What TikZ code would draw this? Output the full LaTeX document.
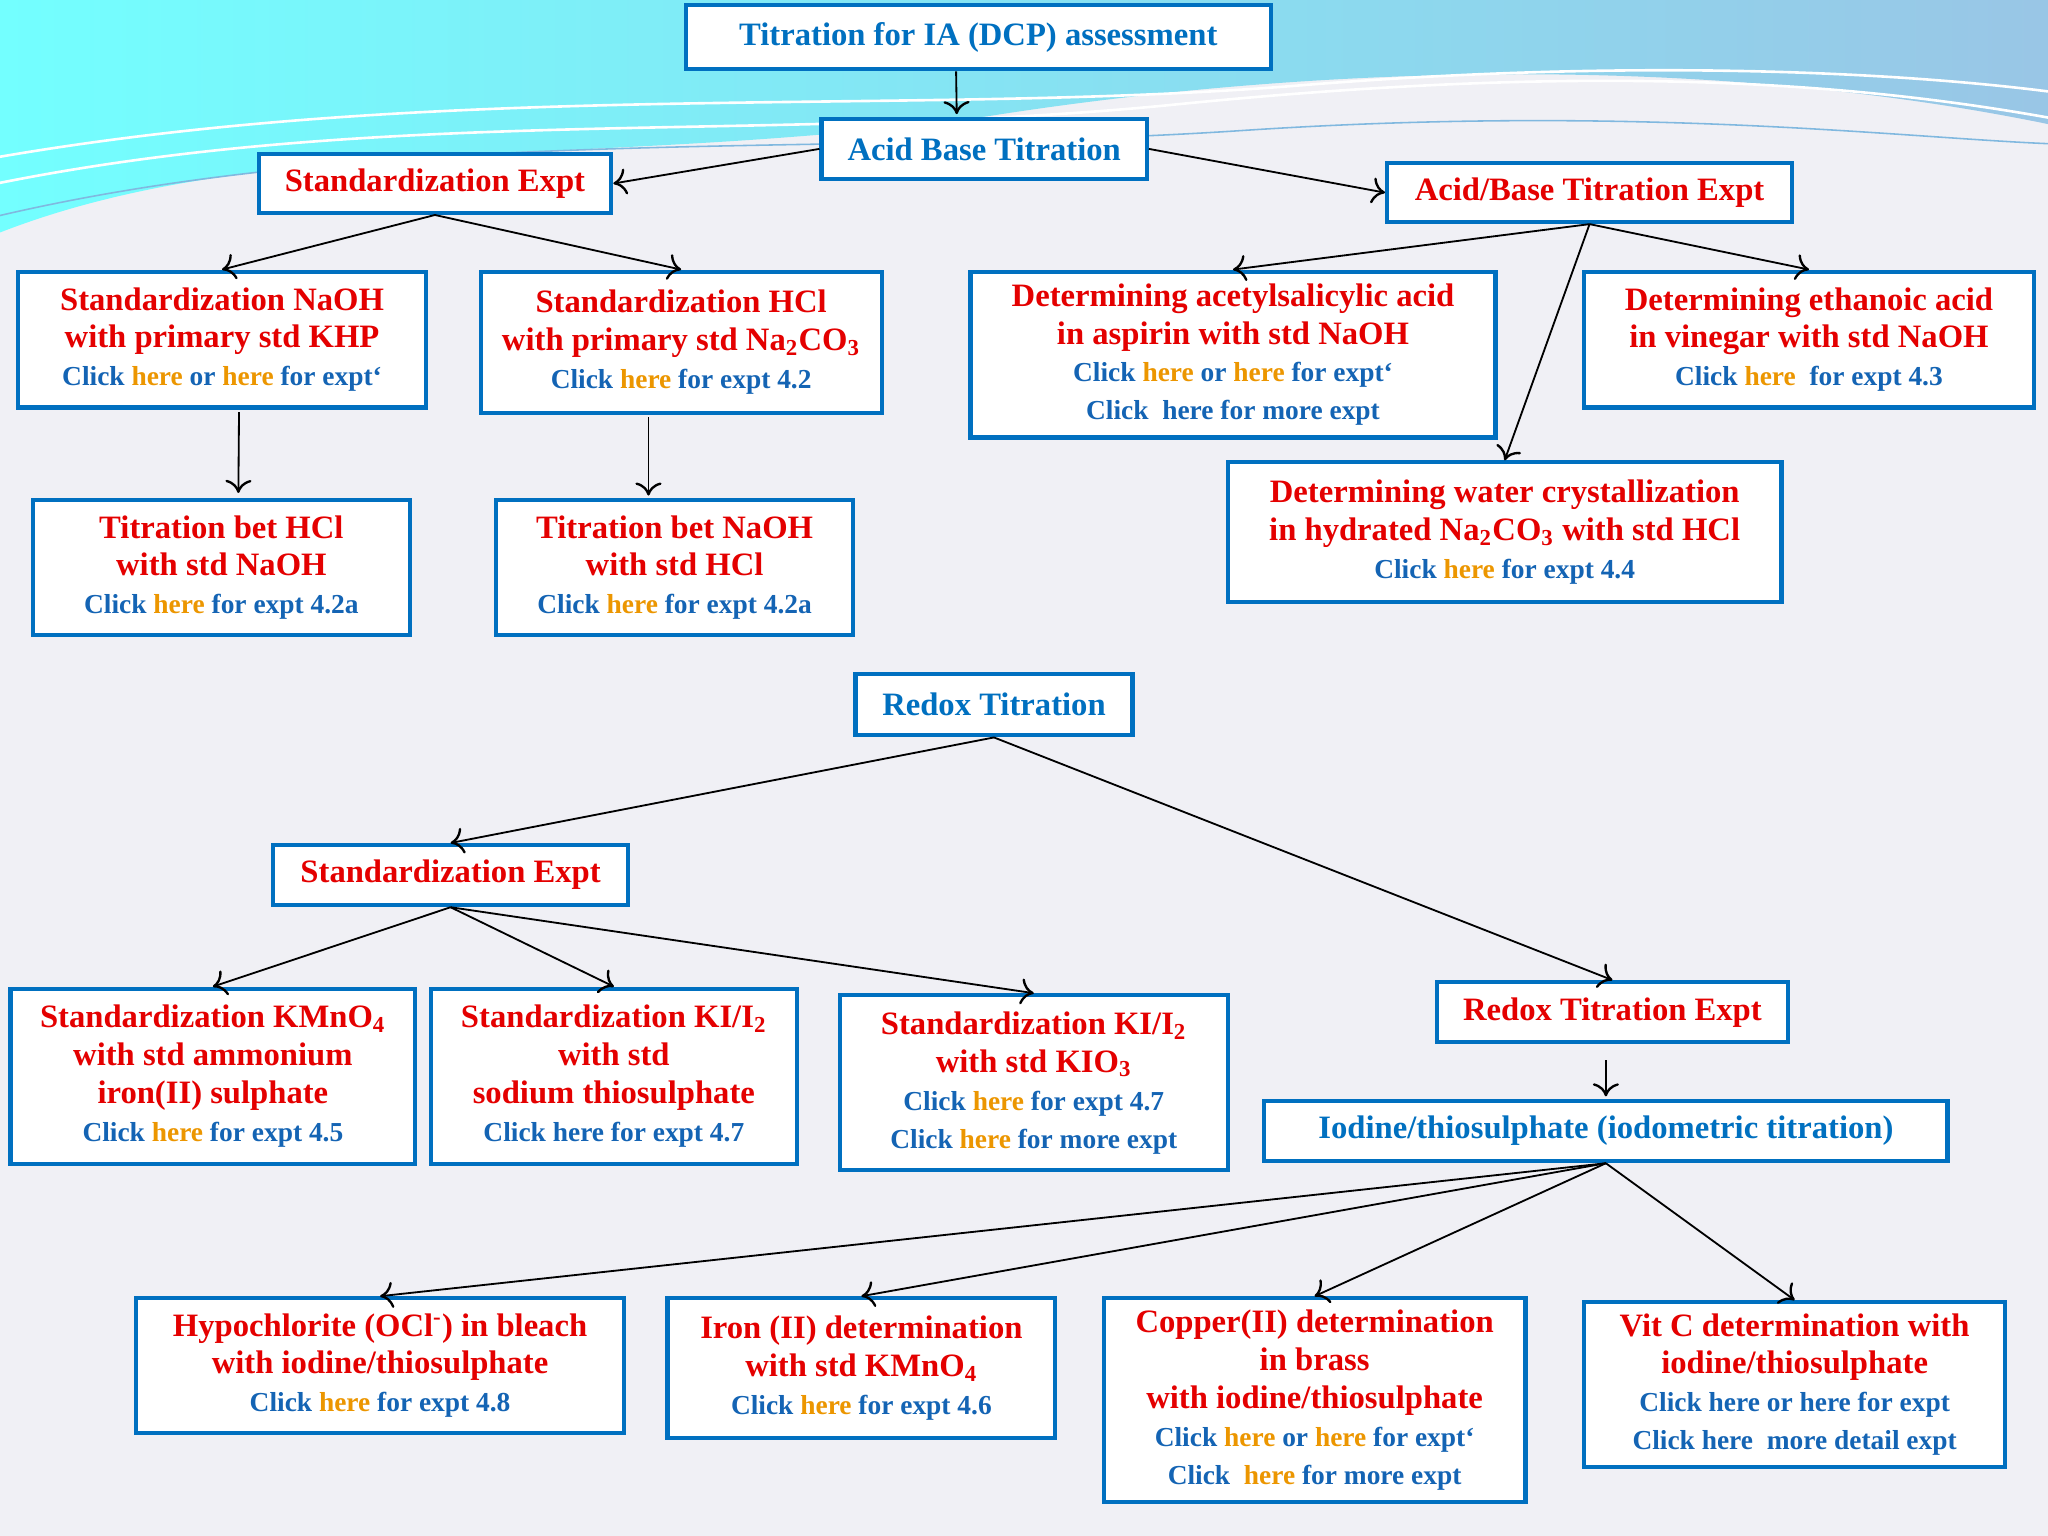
\documentclass[tikz,border=0pt]{standalone}
\usepackage{fontspec}
\setmainfont{Liberation Serif}
\usetikzlibrary{calc,arrows.meta}
\definecolor{bb}{RGB}{0,112,192}
\definecolor{rr}{RGB}{228,0,0}
\definecolor{tb}{RGB}{20,100,180}
\definecolor{oo}{RGB}{236,150,0}
\definecolor{bg}{RGB}{240,240,245}
\newcommand\hh{\textcolor{oo}{here}}
\newcommand\ck[1]{{\fontsize{10.5}{14.5}\selectfont\color{tb}#1}}
\newcommand\bx[7]{\node[box,text=#7,minimum width={(#4-#2)*0.5pt},minimum height={(#5-#3)*0.5pt}] (#1) at ({(#2+#4)/2},{(#3+#5)/2}) {#6};}
\begin{document}
\begin{tikzpicture}[x=0.5pt,y=-0.5pt,
 box/.style={draw=bb,line width=1.6pt,fill=white,inner sep=0pt,align=center,font=\bfseries\fontsize{12.5}{14.5}\selectfont},
 ar/.style={-{To[length=5pt,width=10pt,line width=0.9pt]},line width=0.7pt,black}]
\useasboundingbox (0,0) rectangle (1568,1176);
\fill[bg] (0,0) rectangle (1568,1176);
\shade[left color=cyan!55!white,right color=bb!40!white] (0,0) -- (1568,0) -- (1568,95) .. controls (1300,40) and (1000,50) .. (750,90) .. controls (450,130) and (200,100) .. (0,178) -- cycle;
\draw[white,line width=1pt] (0,140) .. controls (300,80) and (600,110) .. (900,80) .. controls (1200,50) and (1400,60) .. (1568,90);
\draw[white,line width=1pt] (0,120) .. controls (350,60) and (700,90) .. (1000,65) .. controls (1250,45) and (1450,55) .. (1568,70);
\draw[bb!50,line width=0.6pt] (0,165) .. controls (300,95) and (650,120) .. (950,100) .. controls (1250,80) and (1450,105) .. (1568,110);

\bx{ti}{525}{4}{973}{53}{Titration for IA (DCP) assessment}{bb}
\bx{ab}{629}{91}{878}{137}{Acid Base Titration}{bb}
\bx{st}{198}{118}{468}{163}{Standardization Expt}{rr}
\bx{ae}{1062}{125}{1372}{170}{Acid/Base Titration Expt}{rr}
\bx{sn}{14}{208}{326}{312}{Standardization NaOH\\with primary std KHP\\\ck{Click \hh\ or \hh\ for expt`}}{rr}
\bx{sh}{368}{208}{675}{316}{Standardization HCl\\with primary std Na\textsubscript{2}CO\textsubscript{3}\\\ck{Click \hh\ for expt 4.2}}{rr}
\bx{as}{743}{208}{1145}{335}{Determining acetylsalicylic acid\\in aspirin with std NaOH\\\ck{Click \hh\ or \hh\ for expt`}\\\ck{Click\ \ here for more expt}}{rr}
\bx{et}{1213}{208}{1557}{312}{Determining ethanoic acid\\in vinegar with std NaOH\\\ck{Click \hh\ \ for expt 4.3}}{rr}
\bx{t1}{25}{383}{314}{486}{Titration bet HCl\\with std NaOH\\\ck{Click \hh\ for expt 4.2a}}{rr}
\bx{t2}{380}{383}{653}{486}{Titration bet NaOH\\with std HCl\\\ck{Click \hh\ for expt 4.2a}}{rr}
\bx{wa}{940}{354}{1364}{461}{Determining water crystallization\\in hydrated Na\textsubscript{2}CO\textsubscript{3} with std HCl\\\ck{Click \hh\ for expt 4.4}}{rr}
\bx{rx}{655}{516}{867}{563}{Redox Titration}{bb}
\bx{s2}{209}{647}{481}{693}{Standardization Expt}{rr}
\bx{km}{8}{757}{318}{891}{Standardization KMnO\textsubscript{4}\\with std ammonium\\iron(II) sulphate\\\ck{Click \hh\ for expt 4.5}}{rr}
\bx{kt}{330}{757}{610}{891}{Standardization KI/I\textsubscript{2}\\with std\\sodium thiosulphate\\\ck{Click here for expt 4.7}}{rr}
\bx{kk}{643}{762}{940}{896}{Standardization KI/I\textsubscript{2}\\with std KIO\textsubscript{3}\\\ck{Click \hh\ for expt 4.7}\\\ck{Click \hh\ for more expt}}{rr}
\bx{re}{1100}{752}{1369}{798}{Redox Titration Expt}{rr}
\bx{io}{968}{843}{1491}{889}{Iodine/thiosulphate (iodometric titration)}{bb}
\bx{hy}{104}{994}{478}{1097}{Hypochlorite (OCl\textsuperscript{-}) in bleach\\with iodine/thiosulphate\\\ck{Click \hh\ for expt 4.8}}{rr}
\bx{ir}{511}{994}{808}{1101}{Iron (II) determination\\with std KMnO\textsubscript{4}\\\ck{Click \hh\ for expt 4.6}}{rr}
\bx{cu}{845}{994}{1168}{1150}{Copper(II) determination\\in brass\\with iodine/thiosulphate\\\ck{Click \hh\ or \hh\ for expt`}\\\ck{Click\ \ \hh\ for more expt}}{rr}
\bx{vc}{1213}{997}{1535}{1123}{Vit C determination with\\iodine/thiosulphate\\\ck{Click here or here for expt}\\\ck{Click here\ \ more detail expt}}{rr}

\draw[ar] ($(ti.south)+(-17,0)$) -- ($(ab.north)+(-21,-2)$);
\draw[ar] (ab.west) -- (st.east);
\draw[ar] (ab.east) -- (ae.west);
\draw[ar] (st.south) -- (sn.north);
\draw[ar] (st.south) -- (sh.north);
\draw[ar] (ae.south) -- (as.north);
\draw[ar] (ae.south) -- (et.north);
\draw[ar] (ae.south) -- (wa.north);
\draw[ar] ($(sn.south)+(13,2)$) -- ($(t1.north)+(13,-4)$);
\draw[ar] ($(sh.south)+(-25,2)$) -- ($(t2.north)+(-20,-2)$);
\draw[ar] (rx.south) -- (s2.north);
\draw[ar] (rx.south) -- (re.north);
\draw[ar] (s2.south) -- (km.north);
\draw[ar] (s2.south) -- (kt.north);
\draw[ar] (s2.south) -- (kk.north);
\draw[ar] ($(re.south)+(-5,12)$) -- ($(io.north)+(0,-2)$);
\draw[ar] (io.south) -- (hy.north);
\draw[ar] (io.south) -- (ir.north);
\draw[ar] (io.south) -- (cu.north);
\draw[ar] (io.south) -- (vc.north);
\end{tikzpicture}
\end{document}
